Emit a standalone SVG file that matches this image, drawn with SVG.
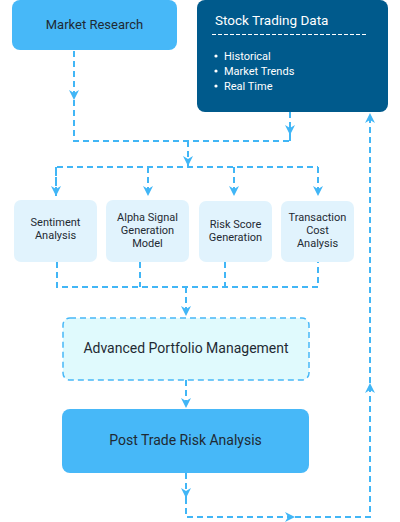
<svg xmlns="http://www.w3.org/2000/svg" width="400" height="522" viewBox="0 0 400 522">
<style>
.t{font-family:Roboto,"Liberation Sans",sans-serif;fill:#1f2a33}
.w{font-family:Roboto,"Liberation Sans",sans-serif;fill:#ffffff}
.c{fill:none;stroke:#41b6f6;stroke-width:2;stroke-dasharray:6 4}
.sm{fill:#e1f3fd}
</style>
<defs>
<marker id="ah" viewBox="0 0 10 10" refX="10" refY="5" markerUnits="userSpaceOnUse" markerWidth="10" markerHeight="10" orient="auto">
<path d="M0,0 L10,5 L0,10 L3,5 Z" fill="#41b6f6"/>
</marker>
</defs>
<rect width="400" height="522" fill="#ffffff"/>
<g id="connectors">
<path class="c" d="M74,51 V100" marker-end="url(#ah)"/>
<path class="c" d="M74,100 V141 H290"/>
<path class="c" d="M290,112 V135" marker-end="url(#ah)"/>
<path class="c" d="M290,135 V141"/>
<path class="c" d="M188,141 V166" marker-end="url(#ah)"/>
<path class="c" d="M56,196 V167 H318"/>
<path class="c" d="M56,167 V196" marker-end="url(#ah)"/>
<path class="c" d="M148,167 V196" marker-end="url(#ah)"/>
<path class="c" d="M234,167 V196" marker-end="url(#ah)"/>
<path class="c" d="M318,167 V196" marker-end="url(#ah)"/>
<path class="c" d="M57,262 V287 H318 V262"/>
<path class="c" d="M140,262 V287"/>
<path class="c" d="M225,262 V287"/>
<path class="c" d="M186,287 V316" marker-end="url(#ah)"/>
<path class="c" d="M186,380 V408" marker-end="url(#ah)"/>
<path class="c" d="M186,473 V498" marker-end="url(#ah)"/>
<path class="c" d="M186,498 V517 H295" marker-end="url(#ah)"/>
<path class="c" d="M295,517 H370 V383" marker-end="url(#ah)"/>
<path class="c" d="M370,383 V113" marker-end="url(#ah)"/>
</g>
<g id="market-research">
<rect x="12" y="0" width="165" height="50" rx="8" fill="#47b8f8"/>
<text class="t" x="94.5" y="29" font-size="13" text-anchor="middle">Market Research</text>
</g>
<g id="stock-trading-data">
<rect x="197" y="0" width="191" height="112" rx="8" fill="#005a8c"/>
<text class="w" x="215" y="25" font-size="13.5">Stock Trading Data</text>
<line x1="212" y1="34.5" x2="366" y2="34.5" stroke="#ffffff" stroke-width="1" stroke-dasharray="4 2"/>
<circle cx="216" cy="56" r="1.6" fill="#ffffff"/>
<circle cx="216" cy="71" r="1.6" fill="#ffffff"/>
<circle cx="216" cy="86" r="1.6" fill="#ffffff"/>
<text class="w" x="224" y="60" font-size="11">Historical</text>
<text class="w" x="224" y="75" font-size="11">Market Trends</text>
<text class="w" x="224" y="90" font-size="11">Real Time</text>
</g>
<g id="sentiment-analysis">
<rect class="sm" x="14" y="200" width="83" height="62" rx="7"/>
<text class="t" x="55.5" y="226" font-size="11" text-anchor="middle">Sentiment</text>
<text class="t" x="55.5" y="239" font-size="11" text-anchor="middle">Analysis</text>
</g>
<g id="alpha-signal">
<rect class="sm" x="106" y="200" width="83" height="62" rx="7"/>
<text class="t" x="147.5" y="221" font-size="11" text-anchor="middle">Alpha Signal</text>
<text class="t" x="147.5" y="234" font-size="11" text-anchor="middle">Generation</text>
<text class="t" x="147.5" y="247" font-size="11" text-anchor="middle">Model</text>
</g>
<g id="risk-score">
<rect class="sm" x="199" y="201" width="73" height="61" rx="7"/>
<text class="t" x="235.5" y="228" font-size="11" text-anchor="middle">Risk Score</text>
<text class="t" x="235.5" y="241" font-size="11" text-anchor="middle">Generation</text>
</g>
<g id="transaction-cost">
<rect class="sm" x="281" y="201" width="73" height="61" rx="7"/>
<text class="t" x="317.5" y="221" font-size="11" text-anchor="middle">Transaction</text>
<text class="t" x="317.5" y="234" font-size="11" text-anchor="middle">Cost</text>
<text class="t" x="317.5" y="247" font-size="11" text-anchor="middle">Analysis</text>
</g>
<g id="advanced-portfolio">
<rect x="63" y="318" width="246" height="62" rx="7" fill="#e0fafd" stroke="#47b8f8" stroke-width="1.5" stroke-dasharray="6 4"/>
<text class="t" x="186" y="353" font-size="14" text-anchor="middle">Advanced Portfolio Management</text>
</g>
<g id="post-trade">
<rect x="62" y="409" width="247" height="64" rx="8" fill="#47b8f8"/>
<text class="t" x="185.5" y="445" font-size="14" text-anchor="middle">Post Trade Risk Analysis</text>
</g>
</svg>
